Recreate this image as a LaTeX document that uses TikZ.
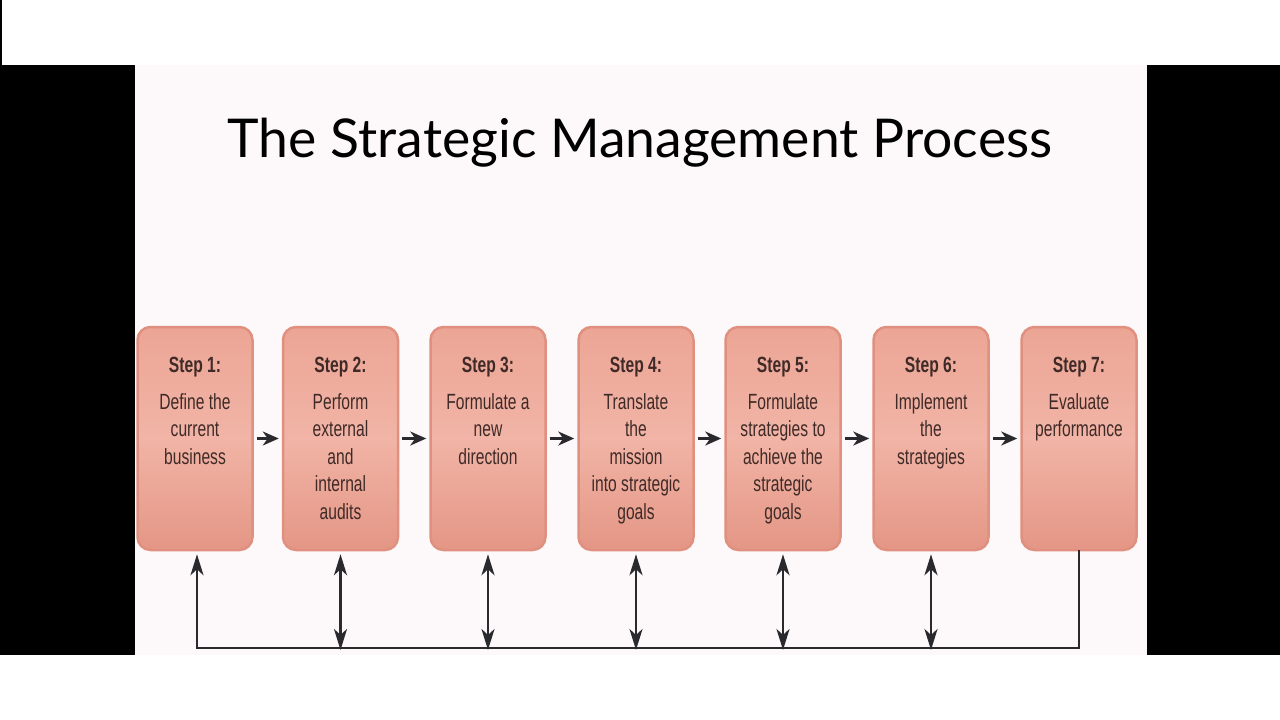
\documentclass[tikz,border=0pt]{standalone}
\usepackage{fontspec}
\setmainfont{Lato}
\newfontfamily\condfont[FakeStretch=0.71]{Liberation Sans}
\usetikzlibrary{arrows.meta}
\definecolor{slidebg}{HTML}{FDF9FB}
\definecolor{boxedge}{HTML}{E0907F}
\definecolor{boxtop}{HTML}{ECA595}
\definecolor{boxmid}{HTML}{F1B4A6}
\definecolor{boxbot}{HTML}{E49685}
\definecolor{txt}{HTML}{3F2A27}
\definecolor{linec}{HTML}{2A2A2E}
\tikzset{
  stepbox/.style={draw=boxedge, line width=2.5pt, rounded corners=13pt,
    top color=boxtop, bottom color=boxbot, middle color=boxmid,
    minimum width=115pt, minimum height=223pt, inner sep=0pt},
  steptxt/.style={text=txt, font=\condfont\fontsize{22}{27.5}\selectfont, align=center, anchor=north},
  conn/.style={draw=linec, line width=2.6pt},
  tip/.style={-{Stealth[length=16pt,width=14pt,inset=5pt]}},
  vtip/.style={-{Stealth[length=21pt,width=13pt,inset=6pt]}},
  dtip/.style={{Stealth[length=21pt,width=13pt,inset=6pt]}-{Stealth[length=21pt,width=13pt,inset=6pt]}},
}
\begin{document}
\begin{tikzpicture}[x=1pt,y=-1pt]
\useasboundingbox (0,0) rectangle (1280,720);
\fill[white] (0,0) rectangle (1280,720);
\draw[black, line width=1.5pt] (0.75,0) -- (0.75,65);
\fill[black] (0,65) rectangle (135,655);
\fill[black] (1147,65) rectangle (1280,655);
\fill[slidebg] (135,65) rectangle (1147,655);
\node[font=\fontsize{53.5}{60}\selectfont, text=black] (title) at (640,143) {The Strategic Management Process};
% boxes
\foreach \i/\x in {1/195,2/340.5,3/488,4/636,5/783,6/931,7/1079}{
  \node[stepbox] (b\i) at (\x,438.5) {};
}
\node[steptxt] (t1) at (195,354) {\textbf{Step 1:}\\[9pt]Define the\\current\\business};
\node[steptxt] (t2) at (340.5,354) {\textbf{Step 2:}\\[9pt]Perform\\external\\and\\internal\\audits};
\node[steptxt] (t3) at (488,354) {\textbf{Step 3:}\\[9pt]Formulate a\\new\\direction};
\node[steptxt] (t4) at (636,354) {\textbf{Step 4:}\\[9pt]Translate\\the\\mission\\into strategic\\goals};
\node[steptxt] (t5) at (783,354) {\textbf{Step 5:}\\[9pt]Formulate\\strategies to\\achieve the\\strategic\\goals};
\node[steptxt] (t6) at (931,354) {\textbf{Step 6:}\\[9pt]Implement\\the\\strategies};
\node[steptxt] (t7) at (1079,354) {\textbf{Step 7:}\\[9pt]Evaluate\\performance};
% horizontal arrows
\foreach \a/\b in {1/2,2/3,3/4,4/5,5/6,6/7}{
  \draw[conn,tip] ([xshift=3pt]b\a.east) -- ([xshift=-3pt]b\b.west);
}
% feedback loop
\coordinate (c1) at (197,648);
\coordinate (c7) at (1079,648);
\draw[conn, line cap=rect] (b7.south) -- (c7) -- (c1);
\draw[conn,vtip] (c1) -- ([xshift=2pt,yshift=-3pt]b1.south);
\foreach \i in {2,3,4,5,6}{
  \coordinate (d\i) at (b\i.south |- c1);
  \draw[conn,dtip] ([yshift=-3pt]b\i.south) -- ([yshift=-2pt]d\i);
}
\end{tikzpicture}
\end{document}
